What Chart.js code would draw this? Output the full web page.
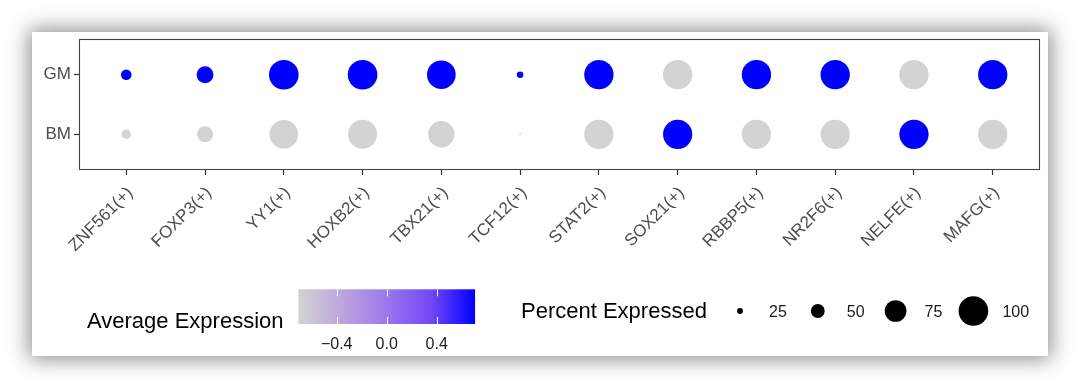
<!DOCTYPE html>
<html>
<head>
<meta charset="utf-8">
<script src="https://cdn.jsdelivr.net/npm/chart.js@4.4.1/dist/chart.umd.min.js"></script>
<style>
  html, body { margin: 0; padding: 0; background: #fff; }
  body { width: 1080px; height: 388px; position: relative; overflow: hidden; }
  #card {
    position: absolute; left: 32px; top: 32px; width: 1016px; height: 324px;
    background: #fff; box-shadow: 0 0 20px 3px rgba(0,0,0,0.45);
  }
  #chart { position: absolute; left: 0; top: 0; }
</style>
</head>
<body>
<div id="card"></div>
<canvas id="chart" width="1080" height="388"></canvas>
<script>
// regulons (x axis) and groups (y axis)
const regulons = ['ZNF561(+)', 'FOXP3(+)', 'YY1(+)', 'HOXB2(+)', 'TBX21(+)', 'TCF12(+)',
  'STAT2(+)', 'SOX21(+)', 'RBBP5(+)', 'NR2F6(+)', 'NELFE(+)', 'MAFG(+)'];
const groups = ['BM', 'GM'];

// percent expressed per group
const pctGM = [40, 60, 100, 100, 97, 27, 99, 99, 99, 99, 99, 99];
const pctBM = [36, 57, 97, 98, 90, 13, 99, 99, 99, 99, 99, 99];

// scaled average expression per group
const avgGM = [0.707, 0.707, 0.707, 0.707, 0.707, 0.707, 0.707, -0.707, 0.707, 0.707, -0.707, 0.707];
const avgBM = [-0.707, -0.707, -0.707, -0.707, -0.707, -0.707, -0.707, 0.707, -0.707, -0.707, 0.707, -0.707];

// legend breaks
const colorTicks = [-0.4, 0.0, 0.4];
const colorRange = [-0.707, 0.707];
const sizeBreaks = [25, 50, 75, 100];

// lightgrey -> blue, interpolated in Lab like ggplot
const gradStops = [[211,211,211], [187,165,224], [157,119,236], [114,72,246], [0,0,255]];

function colorFor(v) {
  let t = (v - colorRange[0]) / (colorRange[1] - colorRange[0]);
  t = Math.min(1, Math.max(0, t));
  const f = t * (gradStops.length - 1);
  const i = Math.min(Math.floor(f), gradStops.length - 2);
  const k = f - i;
  const a = gradStops[i], b = gradStops[i + 1];
  const c = a.map((x, j) => Math.round(x + (b[j] - x) * k));
  return 'rgb(' + c.join(',') + ')';
}

// radius scale for percent expressed
function radius(p) {
  return Math.max(0.158 * p - 1.0, 0.7);
}

function rowData(pct, avg, y) {
  return regulons.map((r, i) => ({ x: i, y: y, r: radius(pct[i]), v: avg[i] }));
}

const FONT = '"Liberation Sans", Arial, sans-serif';

const legendPlugin = {
  id: 'legendPlugin',
  afterDraw(chart) {
    const ctx = chart.ctx;
    const a = chart.chartArea;
    ctx.save();
    // panel border
    ctx.strokeStyle = '#444';
    ctx.lineWidth = 1.1;
    ctx.strokeRect(a.left + 0.5, a.top + 0.5, a.right - a.left - 1, a.bottom - a.top - 1);

    // colour bar legend
    ctx.fillStyle = '#000';
    ctx.font = '22px ' + FONT;
    ctx.textAlign = 'left';
    ctx.textBaseline = 'alphabetic';
    ctx.fillText('Average Expression', 87, 328);

    const zero = 386.7, unit = 125;
    const bx0 = zero + colorRange[0] * unit, bx1 = zero + colorRange[1] * unit;
    const by0 = 289.3, by1 = 324;
    const g = ctx.createLinearGradient(bx0, 0, bx1, 0);
    gradStops.forEach((c, i) => g.addColorStop(i / (gradStops.length - 1), 'rgb(' + c.join(',') + ')'));
    ctx.fillStyle = g;
    ctx.fillRect(bx0, by0, bx1 - bx0, by1 - by0);
    ctx.strokeStyle = '#fff';
    ctx.lineWidth = 1;
    ctx.font = '16px ' + FONT;
    ctx.textAlign = 'center';
    colorTicks.forEach(t => {
      const x = Math.round(zero + t * unit) + 0.5;
      ctx.beginPath();
      ctx.moveTo(x, by0); ctx.lineTo(x, by0 + 7);
      ctx.moveTo(x, by1 - 7); ctx.lineTo(x, by1);
      ctx.stroke();
      ctx.fillStyle = '#1a1a1a';
      ctx.fillText(t.toFixed(1).replace('-', '\u2212'), zero + t * unit, 349);
    });

    // size legend
    ctx.fillStyle = '#000';
    ctx.font = '22px ' + FONT;
    ctx.textAlign = 'left';
    ctx.fillText('Percent Expressed', 521, 317.5);
    ctx.font = '16px ' + FONT;
    sizeBreaks.forEach((p, i) => {
      const cx = 740 + i * 77.8;
      ctx.fillStyle = '#000';
      ctx.beginPath();
      ctx.arc(cx, 311, radius(p), 0, Math.PI * 2);
      ctx.fill();
      ctx.fillStyle = '#1a1a1a';
      ctx.fillText(String(p), cx + 29, 316.5);
    });
    ctx.restore();
  }
};

new Chart(document.getElementById('chart'), {
  type: 'bubble',
  data: {
    datasets: [
      { label: 'GM', data: rowData(pctGM, avgGM, 1) },
      { label: 'BM', data: rowData(pctBM, avgBM, 0) }
    ]
  },
  options: {
    responsive: false,
    animation: false,
    events: [],
    layout: { padding: { left: 0, top: 39, right: 40, bottom: 0 } },
    elements: {
      point: {
        backgroundColor: ctx => colorFor(ctx.raw.v),
        borderWidth: 0
      }
    },
    plugins: { legend: { display: false }, tooltip: { enabled: false } },
    scales: {
      x: {
        type: 'linear',
        min: -0.6,
        max: regulons.length - 0.4,
        afterBuildTicks: s => { s.ticks = regulons.map((r, i) => ({ value: i })); },
        afterFit: s => { s.height = 218; },
        border: { display: false },
        grid: { display: true, drawOnChartArea: false, drawTicks: true, tickLength: 5, tickColor: '#333', tickWidth: 1.2 },
        ticks: {
          autoSkip: false,
          minRotation: 45,
          maxRotation: 45,
          padding: 8,
          labelOffset: 4,
          color: '#4d4d4d',
          font: { family: FONT, size: 17 },
          callback: v => regulons[v]
        }
      },
      y: {
        type: 'linear',
        min: -0.6,
        max: groups.length - 0.4,
        afterBuildTicks: s => { s.ticks = groups.map((g, i) => ({ value: i })); },
        afterFit: s => { s.width = 79; },
        border: { display: false },
        grid: { display: true, drawOnChartArea: false, drawTicks: true, tickLength: 5, tickColor: '#333', tickWidth: 1.2 },
        ticks: {
          padding: 3,
          color: '#4d4d4d',
          font: { family: FONT, size: 17 },
          callback: v => groups[v]
        }
      }
    }
  },
  plugins: [legendPlugin]
});
</script>
</body>
</html>
